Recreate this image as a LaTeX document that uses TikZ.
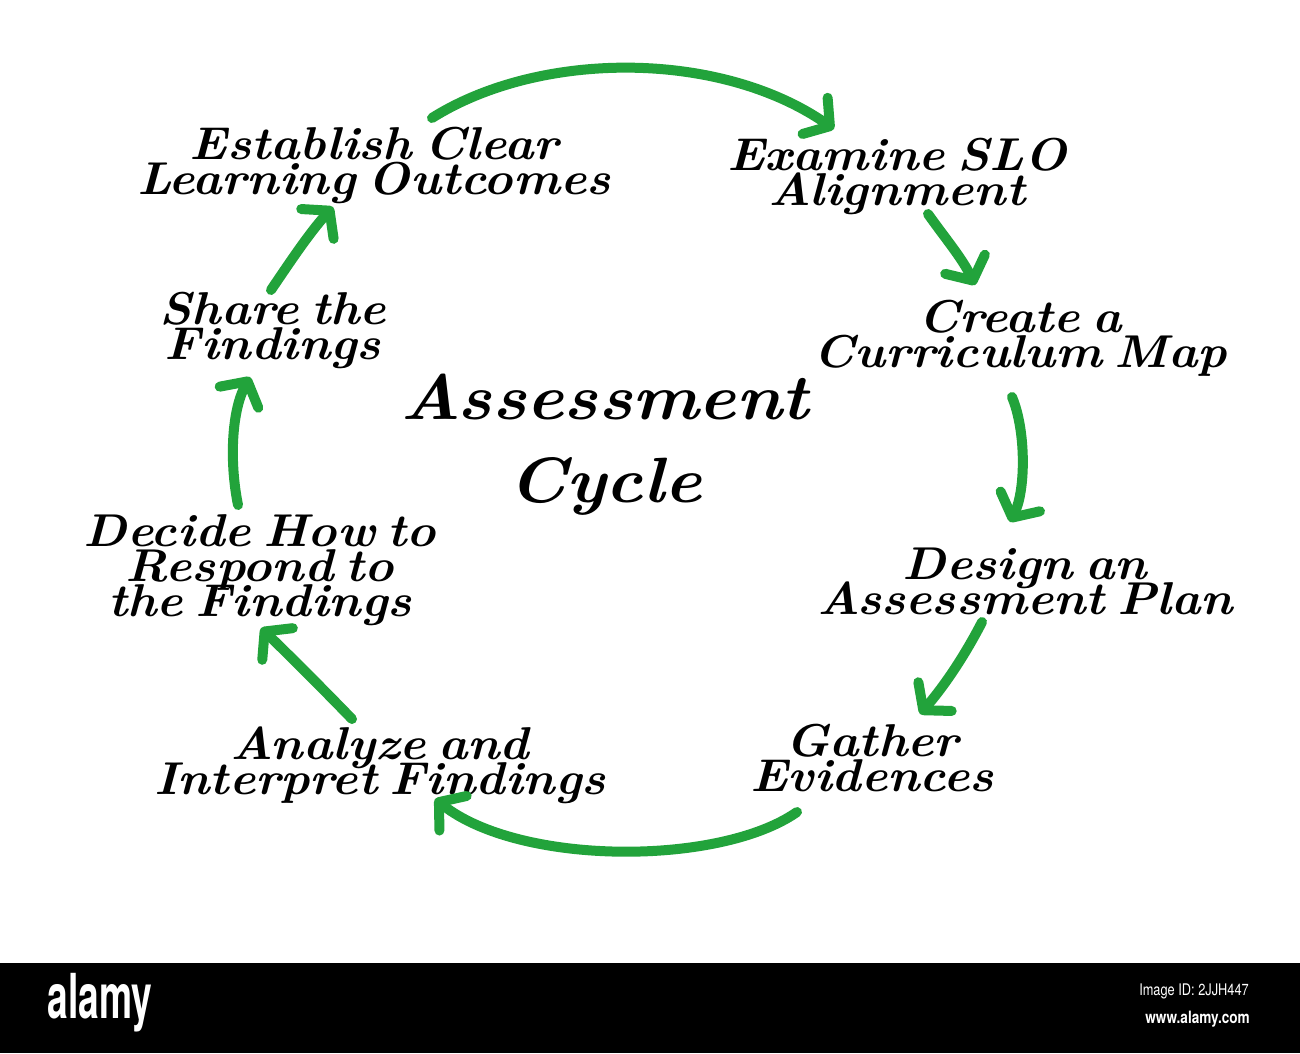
\documentclass[tikz,border=0pt]{standalone}
\usepackage{fontspec}
\usepackage{graphicx}
\usetikzlibrary{arrows.meta}
\definecolor{cyclegreen}{RGB}{34,163,59}
\newfontfamily\barfont{TeX Gyre Heros}
\newcommand\hwtext[2]{\scalebox{#1}[1]{\vbox{\spaceskip=0.25em plus 0.1em\relax\lineskiplimit=-200pt\relax\lineskip=0pt\relax\halign{\hfil##\hfil\cr #2\crcr}}}}
\begin{document}
\begin{tikzpicture}[x=1pt,y=-1pt,
  lbl/.style={font=\fontsize{46}{35}\selectfont\bfseries\itshape, inner sep=0pt},
  ttl/.style={font=\fontsize{64}{83}\selectfont\bfseries\itshape, inner sep=0pt},
  cyc/.style={draw=cyclegreen, line width=10pt, line cap=round,
    -{Straight Barb[length=18pt,width=44pt,round]}},
  barlbl/.style={text=white, inner sep=0pt}]
\useasboundingbox (0,0) rectangle (1300,1053);
\fill[white] (0,0) rectangle (1300,1053);

% labels
\node[lbl] (est) at (374,165) {\hwtext{1.08}{Establish Clear\cr Learning Outcomes}};
\node[lbl] (exa) at (897,176) {\hwtext{1.08}{Examine SLO\cr Alignment}};
\node[lbl] (cre) at (1020,338) {\hwtext{1.08}{Create a\cr Curriculum Map}};
\node[lbl] (des) at (1025,581) {\hwtext{1.08}{Design an\cr Assessment Plan}};
\node[lbl] (gat) at (872,758) {\hwtext{1.08}{Gather\cr Evidences}};
\node[lbl] (ana) at (380,765) {\hwtext{1.08}{Analyze and\cr Interpret Findings}};
\node[lbl] (dec) at (260,570) {\hwtext{1.08}{Decide How to\cr Respond to\cr the Findings}};
\node[lbl] (sha) at (273,330) {\hwtext{1.08}{Share the\cr Findings}};
\node[ttl] (title) at (605,445) {\hwtext{1.1}{Assessment\cr Cycle}};

% arrow end points
\coordinate (a1s) at (432,118); \coordinate (a1e) at (834,129);
\coordinate (a2s) at (928,214); \coordinate (a2e) at (975,285);
\coordinate (a3s) at (1012,397); \coordinate (a3e) at (1010,522);
\coordinate (a4s) at (982,622); \coordinate (a4e) at (920,714);
\coordinate (a5s) at (797,812); \coordinate (a5e) at (435,799);
\coordinate (a6s) at (352,719); \coordinate (a6e) at (261,628);
\coordinate (a7s) at (238,505); \coordinate (a7e) at (250,377);
\coordinate (a8s) at (271,290); \coordinate (a8e) at (333,207);

\draw[cyc] (a1s) .. controls (540,50) and (720,50) .. (a1e);
\draw[cyc] (a2s) .. controls (945,238) and (962,258) .. (a2e);
\draw[cyc] (a3s) .. controls (1026,430) and (1026,490) .. (a3e);
\draw[cyc] (a4s) .. controls (965,655) and (945,685) .. (a4e);
\draw[cyc] (a5s) .. controls (720,866) and (520,866) .. (a5e);
\draw[cyc] (a6s) .. controls (322,688) and (290,656) .. (a6e);
\draw[cyc] (a7s) .. controls (229,460) and (232,410) .. (a7e);
\draw[cyc] (a8s) .. controls (290,262) and (310,232) .. (a8e);

% bottom bar
\fill[black] (0,963) rectangle (1300,1053);
\node[barlbl, font=\barfont\bfseries\fontsize{62}{62}\selectfont] (alamy) at (100,1003) {\scalebox{0.6}[1]{alamy}};
\node[barlbl, font=\barfont\fontsize{16}{16}\selectfont, anchor=east] (imgid) at (1249,991) {\scalebox{0.8}[1]{Image ID: 2JJH447}};
\node[barlbl, font=\barfont\bfseries\fontsize{17}{17}\selectfont, anchor=east] (www) at (1250,1019) {\scalebox{0.8}[1]{www.alamy.com}};
\end{tikzpicture}
\end{document}
